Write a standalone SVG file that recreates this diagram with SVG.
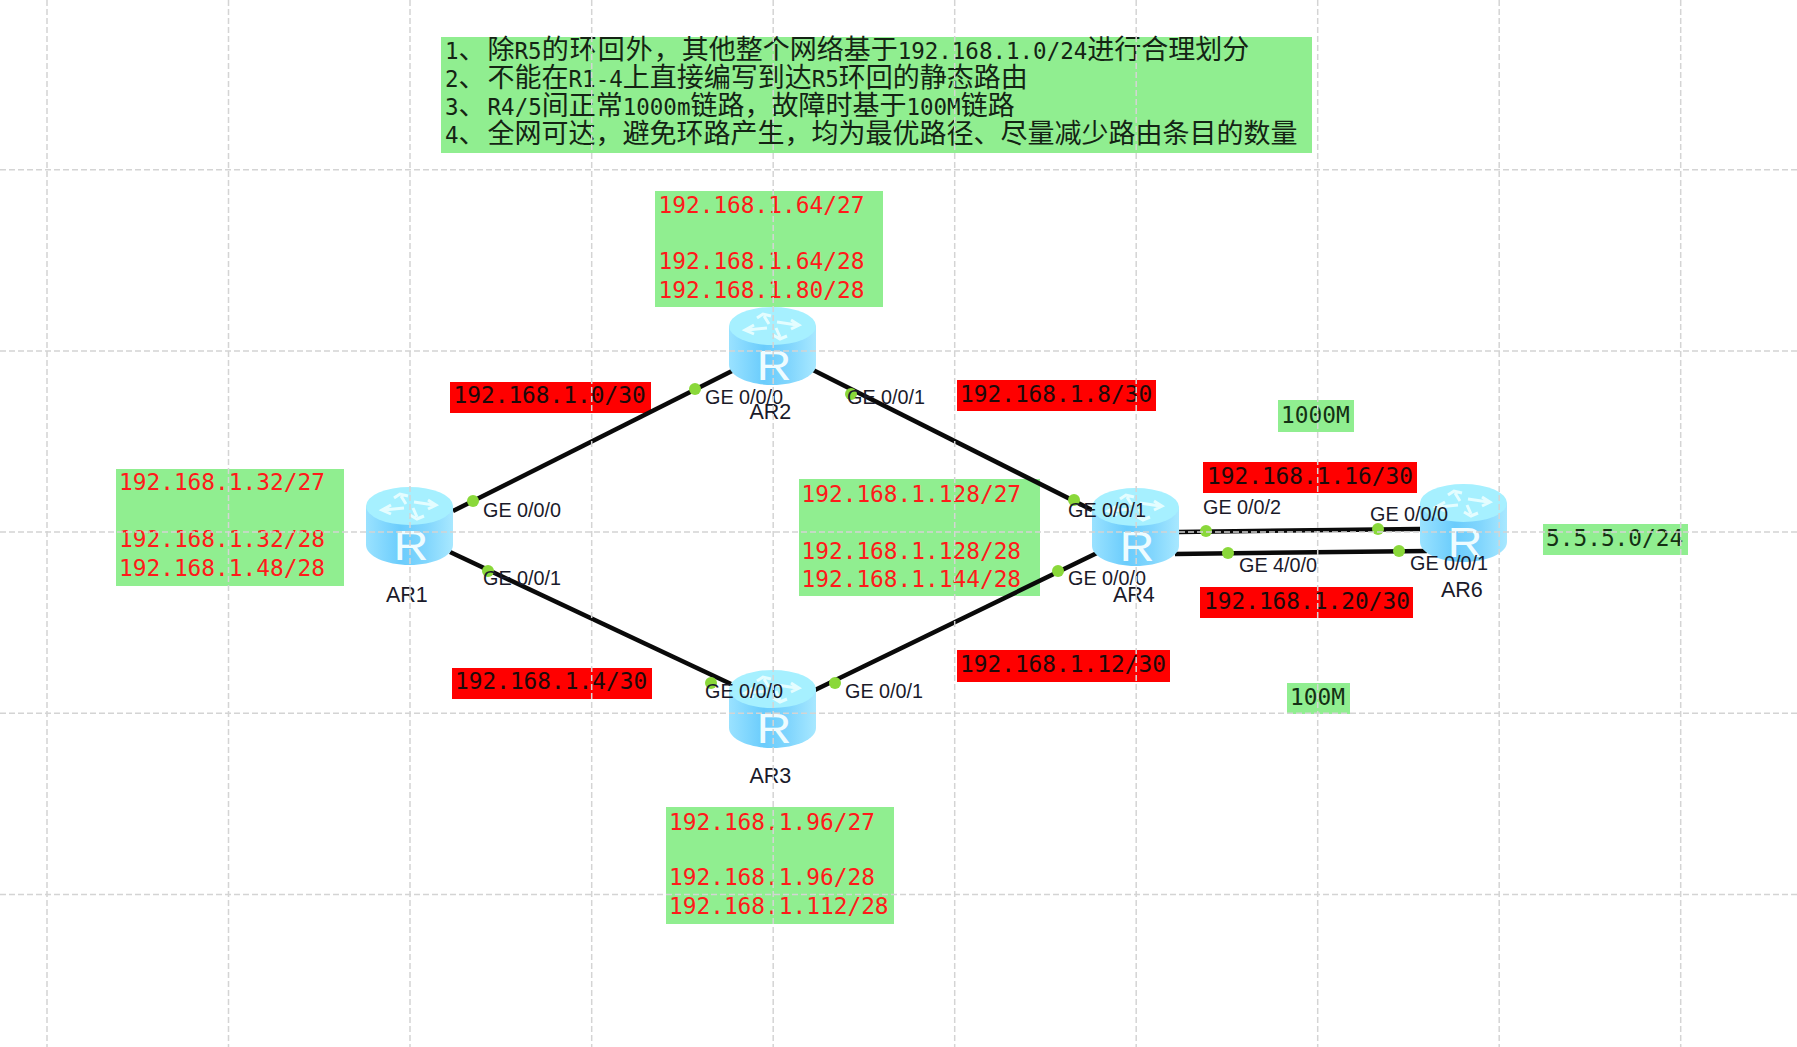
<svg xmlns="http://www.w3.org/2000/svg" xmlns:xlink="http://www.w3.org/1999/xlink" width="1797" height="1047" viewBox="0 0 1797 1047">
<style>
.bg{fill:#fff}
.g{fill:#90ee90}
.r{fill:#ff0000}
.m{font-family:"DejaVu Sans Mono","Liberation Mono",monospace;font-size:22.8px}
.cn{font-family:"DejaVu Sans Mono","Noto Sans CJK SC",monospace;font-size:22.5px;fill:#142414}
.cj{font-family:"Noto Sans CJK SC",sans-serif;font-size:27px;font-weight:400}
.rt{fill:#ff1a1a}
.dk{fill:#1c0a0a}
.gt{fill:#143014}
.p{font-family:"Liberation Sans",Arial,sans-serif;font-size:19.8px;fill:#1a1a2a}
.n{font-family:"Liberation Sans",Arial,sans-serif;font-size:21.5px;fill:#1a1a2a}
.R{font-family:"Liberation Sans",Arial,sans-serif;font-size:42px;fill:#eefcff;text-anchor:middle}
.l{stroke:#0a0a0a;stroke-width:4.500;fill:none}
.d{fill:#8ad83a}
.gr{stroke:#d4d4d4;stroke-width:1.500;stroke-dasharray:6 3;fill:none}
</style>
<defs>
<linearGradient id="side" x1="0" x2="1" y1="0" y2="0">
<stop offset="0" stop-color="#9ae2ff"/><stop offset=".4" stop-color="#6accfc"/><stop offset=".7" stop-color="#82d6fd"/><stop offset="1" stop-color="#a8e8ff"/>
</linearGradient>
<symbol id="router" viewBox="0 0 87 78" width="87" height="78" overflow="visible">
<path d="M0 19V58C0 69 20 78 43.500 78S87 69 87 58V19Z" fill="url(#side)"/>
<ellipse cx="43.500" cy="19" rx="43.500" ry="19" fill="#a6f0ff"/>
<path d="M40 17L35 9M28 11L34 7L42 9M48 15L68 18M62 13L70 18L62 22M47 21L51 30M44 28L51 32L58 29M38 21L18 23M25 18L16 23L25 27" fill="none" stroke="#eeffff" stroke-width="3" opacity=".85"/>
</symbol>
</defs>
<rect class="bg" width="1797" height="1047"/>

<g id="notes">
<rect class="g" x="441" y="37" width="871" height="116"/>
<text class="cn" x="445" y="59">1<tspan class="cj">、</tspan><tspan class="cj" dx="2">除</tspan>R5<tspan class="cj" letter-spacing="1">的环回外&#65292;</tspan><tspan class="cj">其他整个网络基于</tspan>192.168.1.0/24<tspan class="cj">进行合理划分</tspan></text>
<text class="cn" x="445" y="87">2<tspan class="cj">、</tspan><tspan class="cj" dx="2">不能在</tspan>R1-4<tspan class="cj">上直接编写到达</tspan>R5<tspan class="cj">环回的静态路由</tspan></text>
<text class="cn" x="445" y="115">3<tspan class="cj">、</tspan><tspan dx="2">R4/5</tspan><tspan class="cj">间正常</tspan>1000m<tspan class="cj">链路&#65292;</tspan><tspan class="cj">故障时基于</tspan>100M<tspan class="cj">链路</tspan></text>
<text class="cn" x="445" y="143">4<tspan class="cj">、</tspan><tspan class="cj" dx="2">全网可达&#65292;避免环路产生&#65292;均为最优路径、尽量减少路由条目的数量</tspan></text>
</g>

<g id="subnet-ar2">
<rect class="g" x="655" y="191" width="228" height="116"/>
<text class="m rt" x="658.500" y="213">192.168.1.64/27</text>
<text class="m rt" x="658.500" y="269">192.168.1.64/28</text>
<text class="m rt" x="658.500" y="298">192.168.1.80/28</text>
</g>
<g id="subnet-ar1">
<rect class="g" x="116" y="469" width="228" height="117"/>
<text class="m rt" x="119" y="490">192.168.1.32/27</text>
<text class="m rt" x="119" y="547">192.168.1.32/28</text>
<text class="m rt" x="119" y="576">192.168.1.48/28</text>
</g>
<g id="subnet-ar4">
<rect class="g" x="799" y="479" width="241" height="117"/>
<text class="m rt" x="801.500" y="502">192.168.1.128/27</text>
<text class="m rt" x="801.500" y="559">192.168.1.128/28</text>
<text class="m rt" x="801.500" y="587">192.168.1.144/28</text>
</g>
<g id="subnet-ar3">
<rect class="g" x="666" y="807" width="228" height="117"/>
<text class="m rt" x="669" y="830">192.168.1.96/27</text>
<text class="m rt" x="669" y="885">192.168.1.96/28</text>
<text class="m rt" x="669" y="914">192.168.1.112/28</text>
</g>

<g id="link-labels">
<rect class="r" x="450" y="382" width="201" height="31"/><text class="m dk" x="453.500" y="403">192.168.1.0/30</text>
<rect class="r" x="957" y="380" width="199" height="31"/><text class="m dk" x="960" y="402">192.168.1.8/30</text>
<rect class="r" x="452" y="668" width="200" height="31"/><text class="m dk" x="455" y="689">192.168.1.4/30</text>
<rect class="r" x="957" y="650" width="213" height="32"/><text class="m dk" x="960" y="672">192.168.1.12/30</text>
<rect class="r" x="1203" y="462" width="214" height="31"/><text class="m dk" x="1207" y="484">192.168.1.16/30</text>
<rect class="r" x="1200" y="587" width="213" height="31"/><text class="m dk" x="1204" y="609">192.168.1.20/30</text>
<rect class="g" x="1278" y="400" width="76" height="32"/><text class="m gt" x="1281" y="423">1000M</text>
<rect class="g" x="1287" y="683" width="63" height="31"/><text class="m gt" x="1290" y="705">100M</text>
<rect class="g" x="1543" y="524" width="145" height="31"/><text class="m gt" x="1546" y="546">5.5.5.0/24</text>
</g>

<g id="connectors">
<path class="l" d="M453 511L732 371"/>
<path class="l" d="M813 370L1092 510"/>
<path class="l" d="M450 552L731 684"/>
<path class="l" d="M815 690L1097 553"/>
<path class="l" d="M1179 532L1420 529"/>
<path class="l" d="M1175 554L1427 551"/>
<circle class="d" cx="473" cy="501" r="6"/>
<circle class="d" cx="488" cy="571" r="6"/>
<circle class="d" cx="695" cy="389" r="6"/>
<circle class="d" cx="851" cy="394" r="6"/>
<circle class="d" cx="711" cy="683" r="6"/>
<circle class="d" cx="835" cy="683" r="6"/>
<circle class="d" cx="1074" cy="500" r="6"/>
<circle class="d" cx="1058" cy="571" r="6"/>
<circle class="d" cx="1206" cy="531" r="6"/>
<circle class="d" cx="1378" cy="529" r="6"/>
<circle class="d" cx="1228" cy="553" r="6"/>
<circle class="d" cx="1399" cy="551" r="6"/>
</g>

<g id="AR1"><use href="#router" x="366" y="487"/><text class="R" x="411" y="560" textLength="35" lengthAdjust="spacingAndGlyphs">R</text><text class="n" x="386" y="602">AR1</text></g>
<g id="AR2"><use href="#router" x="729" y="307"/><text class="R" x="774" y="380" textLength="35" lengthAdjust="spacingAndGlyphs">R</text><text class="n" x="749.500" y="419">AR2</text></g>
<g id="AR3"><use href="#router" x="729" y="670"/><text class="R" x="774" y="743" textLength="35" lengthAdjust="spacingAndGlyphs">R</text><text class="n" x="749.500" y="783">AR3</text></g>
<g id="AR4"><use href="#router" x="1092" y="488"/><text class="R" x="1137" y="561" textLength="35" lengthAdjust="spacingAndGlyphs">R</text><text class="n" x="1113" y="602">AR4</text></g>
<g id="AR6"><use href="#router" x="1420" y="484"/><text class="R" x="1465" y="557" textLength="35" lengthAdjust="spacingAndGlyphs">R</text><text class="n" x="1441" y="597">AR6</text></g>

<g id="port-labels">
<text class="p" x="483" y="517">GE 0/0/0</text>
<text class="p" x="483" y="585">GE 0/0/1</text>
<text class="p" x="705" y="404">GE 0/0/0</text>
<text class="p" x="847" y="404">GE 0/0/1</text>
<text class="p" x="705" y="698">GE 0/0/0</text>
<text class="p" x="845" y="698">GE 0/0/1</text>
<text class="p" x="1068" y="517">GE 0/0/1</text>
<text class="p" x="1068" y="585">GE 0/0/0</text>
<text class="p" x="1203" y="514">GE 0/0/2</text>
<text class="p" x="1239" y="572">GE 4/0/0</text>
<text class="p" x="1370" y="521">GE 0/0/0</text>
<text class="p" x="1410" y="570">GE 0/0/1</text>
</g>

<g id="grid">
<path class="gr" d="M47 0V1047M228.500 0V1047M410 0V1047M591.700 0V1047M773.200 0V1047M954.700 0V1047M1136.200 0V1047M1317.700 0V1047M1499.200 0V1047M1680.700 0V1047"/>
<path class="gr" d="M0 169.700H1797M0 350.900H1797M0 532H1797M0 713.300H1797M0 894.600H1797"/>
</g>
</svg>
